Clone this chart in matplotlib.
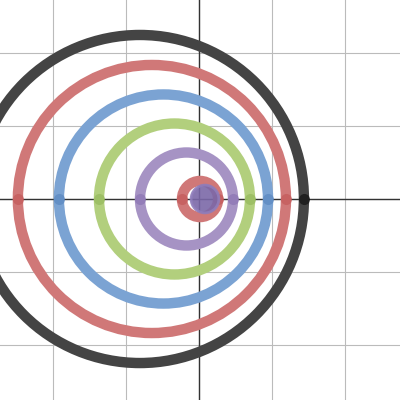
import matplotlib
matplotlib.use("Agg")
import matplotlib.pyplot as plt
from matplotlib.patches import Circle

# circle centres (x on the axis) and radii, in grid units
centers = [-0.81, -0.645, -0.487, -0.336, -0.171, 0.014]
radii = [2.247, 1.836, 1.432, 1.034, 0.637, 0.247]
colors = ["#444444", "#d07878", "#7ba3d3", "#b2cf7d", "#a693c4", "#d07878"]
dot_colors = ["#111111", "#c45a5a", "#5a87c0", "#95b95c", "#8b74b3", "#c45a5a"]
disc_x, disc_r = 0.082, 0.19

fig = plt.figure(figsize=(4, 4), dpi=100)
ax = fig.add_axes([0, 0, 1, 1])
ax.set_xlim(-199 / 73, 201 / 73)
ax.set_ylim(-201 / 73, 199 / 73)
ax.set_aspect("equal")
ax.axis("off")

for g in range(-3, 4):
    ax.axvline(g, color="#bbbbbb", lw=0.8, zorder=0)
    ax.axhline(g, color="#bbbbbb", lw=0.8, zorder=0)
ax.axvline(0, color="#333333", lw=1, zorder=1)
ax.axhline(0, color="#333333", lw=1, zorder=1)

for cx, r, c in zip(centers, radii, colors):
    ax.add_patch(Circle((cx, 0), r, fill=False, ec=c, lw=7.5, zorder=2))
for cx, r, dc in zip(centers, radii, dot_colors):
    ax.plot([cx - r, cx + r], [0, 0], "o", color=dc, ms=8, alpha=0.7, mew=0, zorder=3)

ax.add_patch(Circle((disc_x, 0), disc_r, fc="#7b68a8", ec="#8f7dbb", lw=2, alpha=0.9, zorder=4))

fig.savefig("out.png", dpi=100)
